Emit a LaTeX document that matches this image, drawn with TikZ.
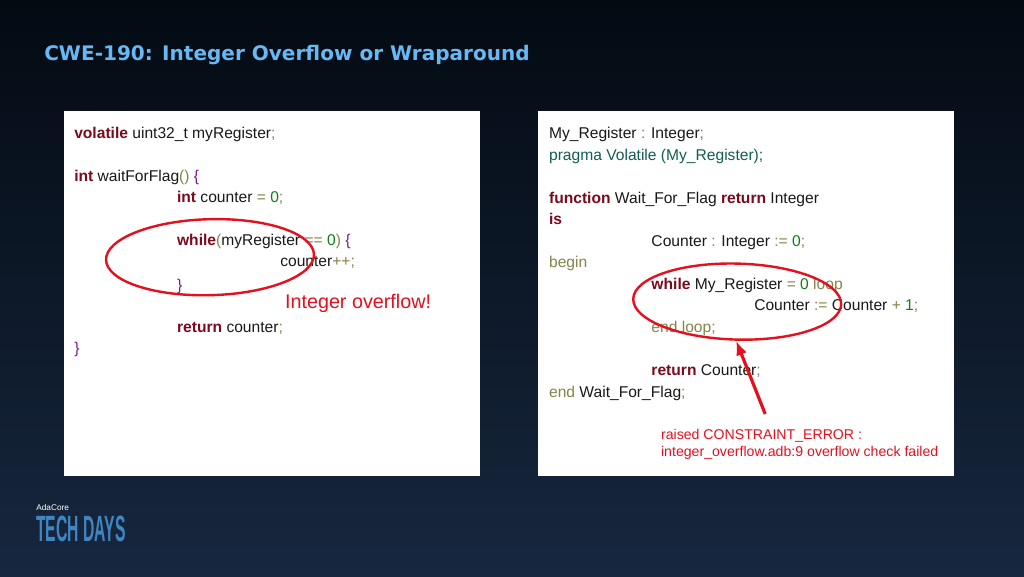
\documentclass[tikz,border=0pt]{standalone}
\usepackage{fontspec}
\setmainfont{Liberation Sans}
\newfontfamily\titlefont{DejaVu Sans}
\usetikzlibrary{arrows.meta,calc,shapes.geometric}
\definecolor{skytop}{HTML}{030A12}
\definecolor{skybot}{HTML}{17273F}
\definecolor{titleblue}{HTML}{66B9F5}
\definecolor{logoblue}{HTML}{3F86C2}
\definecolor{kwred}{HTML}{7A0A1C}
\definecolor{opolive}{HTML}{84844A}
\definecolor{numgreen}{HTML}{0F7F1A}
\definecolor{brcpurple}{HTML}{7A1A8A}
\definecolor{pragteal}{HTML}{125E52}
\definecolor{markred}{HTML}{E4101E}
\def\kw#1{\textcolor{kwred}{\bfseries #1}}
\def\op#1{\textcolor{opolive}{#1}}
\def\num#1{\textcolor{numgreen}{#1}}
\def\brc#1{\textcolor{brcpurple}{#1}}
\tikzset{
	codeline/.style={anchor=base west, inner sep=0, font=\fontsize{11.1pt}{12pt}\selectfont, text=black!90},
	errline/.style={anchor=base west, inner sep=0, font=\fontsize{10.05pt}{12pt}\selectfont, text=markred},
	panel/.style={fill=white},
	ring/.style={draw=markred, ellipse, line width=0.06cm, inner sep=0, minimum width=5.2cm, minimum height=1.9cm}
}
\begin{document}
\begin{tikzpicture}
		%%%%% START %%%%%
		\useasboundingbox (0, 0) rectangle (25.6, 14.4);
		\shade[top color=skytop, bottom color=skybot] (0, 0) rectangle (25.6, 14.4);
		
		\node[anchor=base west, inner sep=0, text=titleblue, font=\titlefont\bfseries\fontsize{14.25pt}{16pt}\selectfont] (title) at (1.1, 12.88) {CWE-190: Integer Overflow or Wraparound};
		
		\fill[panel] (1.6, 2.5) rectangle (12, 11.63);
		\fill[panel] (13.45, 2.5) rectangle (23.85, 11.63);
		
		% left code
		\node[codeline] (lone) at (1.85, 10.93) {\kw{volatile} uint32\_t myRegister\op{;}};
		\node[codeline] (ltwo) at (1.85, 9.86) {\kw{int} waitForFlag\op{()} \brc{\{}};
		\node[codeline] (lthree) at (4.42, 9.33) {\kw{int} counter \op{=} \num{0}\op{;}};
		\node[codeline] (lfour) at (4.42, 8.25) {\kw{while}\op{(}myRegister \op{==} \num{0}\op{)} \brc{\{}};
		\node[codeline] (lfive) at (7, 7.73) {counter\op{++;}};
		\node[codeline] (lsix) at (4.42, 7.13) {\brc{\}}};
		\node[codeline] (lseven) at (4.42, 6.08) {\kw{return} counter\op{;}};
		\node[codeline] (leight) at (1.85, 5.55) {\brc{\}}};
		
		% right code
		\node[codeline] (rone) at (13.72, 10.93) {My\_Register \op{:} Integer\op{;}};
		\node[codeline] (rtwo) at (13.72, 10.38) {\textcolor{pragteal}{pragma Volatile (My\_Register);}};
		\node[codeline] (rthree) at (13.72, 9.31) {\kw{function} Wait\_For\_Flag \kw{return} Integer};
		\node[codeline] (rfour) at (13.72, 8.78) {\kw{is}};
		\node[codeline] (rfive) at (16.28, 8.23) {Counter \op{:} Integer \op{:=} \num{0}\op{;}};
		\node[codeline] (rsix) at (13.72, 7.7) {\op{begin}};
		\node[codeline] (rseven) at (16.28, 7.16) {\kw{while} My\_Register \op{=} \num{0} \op{loop}};
		\node[codeline] (reight) at (18.85, 6.63) {Counter \op{:=} Counter \op{+} \num{1}\op{;}};
		\node[codeline] (rnine) at (16.28, 6.08) {\op{end loop;}};
		\node[codeline] (rten) at (16.28, 5.01) {\kw{return} Counter\op{;}};
		\node[codeline] (releven) at (13.72, 4.46) {\op{end} Wait\_For\_Flag\op{;}};
		
		% red marks
		\node[ring, rotate=1.5] (lring) at (5.25, 7.97) {};
		\node[ring, rotate=-1.5] (rring) at (18.43, 6.86) {};
		\node[anchor=base west, inner sep=0, text=markred, font=\fontsize{14.05pt}{18pt}\selectfont] (overflow) at (7.12, 6.68) {Integer overflow!};
		\node[errline] (errone) at (16.52, 3.4) {raised CONSTRAINT\_ERROR :};
		\node[errline] (errtwo) at (16.52, 2.98) {integer\_overflow.adb:9 overflow check failed};
		\coordinate (errtail) at (19.13, 4.05);
		\draw[draw=markred, line width=0.08cm, -{Latex[length=0.36cm,width=0.28cm]}] (errtail) -- (rring.south);
		
		% logo
		\node[anchor=base west, inner sep=0, text=white, font=\fontsize{5.9pt}{7pt}\selectfont] (ada) at (0.9, 1.63) {AdaCore};
		\node[anchor=base west, inner sep=0, text=logoblue, font=\bfseries\fontsize{26pt}{28pt}\selectfont] (tech) at (0.9, 0.87) {\scalebox{0.43}[1]{TECH DAYS}};
		%%%%% END %%%%%
	\end{tikzpicture}
\end{document}
